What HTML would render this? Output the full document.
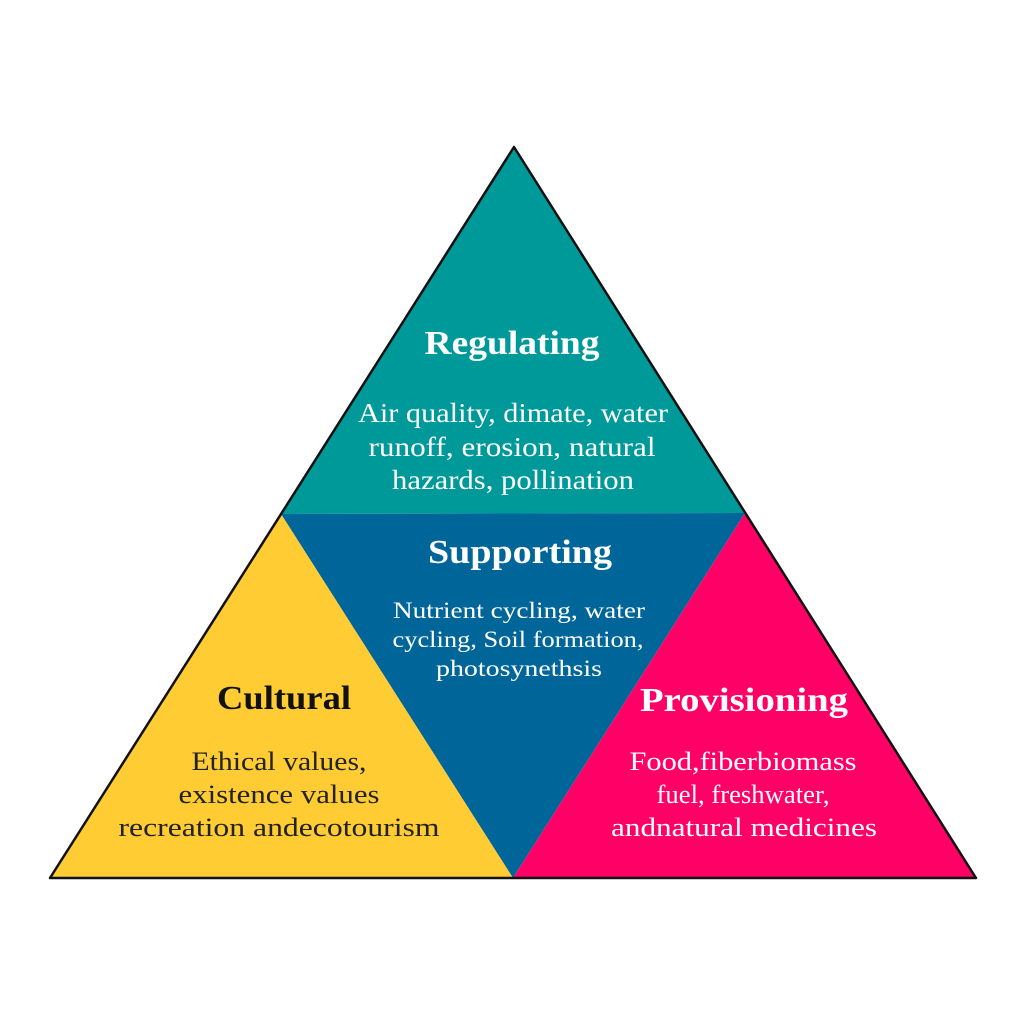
<!DOCTYPE html>
<html><head><style>
html,body{margin:0;padding:0;background:#fff;}
svg text{font-family:"Liberation Serif",serif;text-anchor:middle;}
</style></head><body>
<svg width="1024" height="1024" viewBox="0 0 1024 1024">
<rect width="1024" height="1024" fill="#fff"/>
<polygon points="514,147 745,513 281,514" fill="#009999"/>
<polygon points="281,514 745,513 513,878" fill="#006699"/>
<polygon points="281,514 513,878 50,878" fill="#FFCC33"/>
<polygon points="745,513 976,878 513,878" fill="#FF0066"/>
<polygon points="514,147 976,878 50,878" fill="none" stroke="#111" stroke-width="2.5" stroke-linejoin="round"/>
<g fill="#fff" lengthAdjust="spacingAndGlyphs">
<text x="512" y="354" font-size="34" font-weight="bold" textLength="175" lengthAdjust="spacingAndGlyphs">Regulating</text>
<text x="513" y="422" font-size="27" textLength="310" lengthAdjust="spacingAndGlyphs">Air quality, dimate, water</text>
<text x="512" y="456" font-size="27" textLength="287" lengthAdjust="spacingAndGlyphs">runoff, erosion, natural</text>
<text x="513" y="489" font-size="27" textLength="242" lengthAdjust="spacingAndGlyphs">hazards, pollination</text>
<text x="520" y="563" font-size="34" font-weight="bold" textLength="184" lengthAdjust="spacingAndGlyphs">Supporting</text>
<text x="519" y="618" font-size="23" textLength="252" lengthAdjust="spacingAndGlyphs">Nutrient cycling, water</text>
<text x="518" y="647" font-size="23" textLength="251" lengthAdjust="spacingAndGlyphs">cycling, Soil formation,</text>
<text x="519" y="676" font-size="23" textLength="166" lengthAdjust="spacingAndGlyphs">photosynethsis</text>
<text x="744" y="711" font-size="34" font-weight="bold" textLength="208" lengthAdjust="spacingAndGlyphs">Provisioning</text>
<text x="743" y="770" font-size="26" textLength="227" lengthAdjust="spacingAndGlyphs">Food,fiberbiomass</text>
<text x="743" y="803" font-size="26" textLength="173" lengthAdjust="spacingAndGlyphs">fuel, freshwater,</text>
<text x="744" y="836" font-size="26" textLength="266" lengthAdjust="spacingAndGlyphs">andnatural medicines</text>
</g>
<g fill="#222">
<text x="284" y="709" font-size="34" font-weight="bold" fill="#111" textLength="134" lengthAdjust="spacingAndGlyphs">Cultural</text>
<text x="279" y="770" font-size="26" textLength="175" lengthAdjust="spacingAndGlyphs">Ethical values,</text>
<text x="279" y="803" font-size="26" textLength="201" lengthAdjust="spacingAndGlyphs">existence values</text>
<text x="279" y="836" font-size="26" textLength="321" lengthAdjust="spacingAndGlyphs">recreation andecotourism</text>
</g>
</svg>
</body></html>
